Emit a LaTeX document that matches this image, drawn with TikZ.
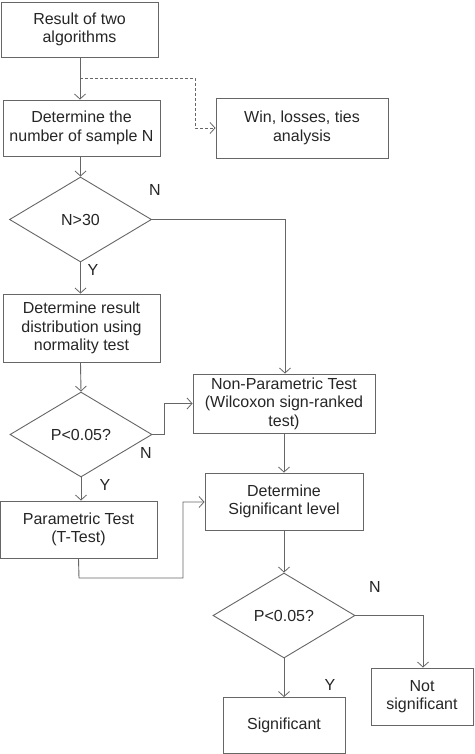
\documentclass[tikz,border=0pt]{standalone}
\usepackage{fontspec}
\setmainfont{Liberation Sans}
\usetikzlibrary{shapes.geometric,arrows.meta}
\begin{document}
\begin{tikzpicture}[x=1pt,y=-1pt,
  every node/.style={font=\fontsize{16}{18.5}\selectfont, text=black!85},
  box/.style={draw=black!60, line width=0.9pt, rectangle, inner sep=0pt, align=center},
  dec/.style={draw=black!60, line width=0.9pt, diamond, inner sep=0pt, minimum width=142pt, minimum height=85pt, align=center},
  conn/.style={draw=black!60, line width=0.9pt, -{Straight Barb[length=5pt,width=11pt,line width=0.8pt]}},
  lbl/.style={inner sep=0pt}
]
\useasboundingbox[fill=white] (0,0) rectangle (474,754);

\node[box, minimum width=157pt, minimum height=55pt] (b1) at (79.5,29.5) {Result of two\\algorithms};
\node[box, minimum width=157pt, minimum height=56pt] (b2) at (81.5,128) {Determine the\\number of sample N};
\node[box, minimum width=172pt, minimum height=60pt] (win) at (302,128) {Win, losses, ties\\analysis};
\node[dec] (d1) at (80.5,219.5) {N>30};
\node[box, minimum width=157pt, minimum height=68pt] (b3) at (81.5,328) {Determine result\\distribution using\\normality test};
\node[dec] (d2) at (81,434.5) {P<0.05?};
\node[box, minimum width=182pt, minimum height=59pt] (np) at (284,403.5) {Non-Parametric Test\\(Wilcoxon sign-ranked\\test)};
\node[box, minimum width=158pt, minimum height=57pt] (ds) at (284,501.5) {Determine\\Significant level};
\node[box, minimum width=157pt, minimum height=57pt] (pt) at (78.5,529.5) {Parametric Test\\(T-Test)};
\node[dec] (d3) at (284,615.5) {P<0.05?};
\node[box, minimum width=102pt, minimum height=57pt] (ns) at (422,696.5) {Not\\significant};
\node[box, minimum width=122pt, minimum height=56pt] (sig) at (284,725.5) {Significant};

\coordinate (split) at (80,78);
\coordinate (dk1) at (195,78);
\coordinate (dk2) at (195,128);
\coordinate (r1) at (285,219.5);
\coordinate (r2a) at (164,434.5);
\coordinate (r2b) at (164,403.5);
\coordinate (p1) at (79,578);
\coordinate (p2) at (183,578);
\coordinate (p3) at (183,502);
\coordinate (r3) at (423,615.5);

\draw[conn] (b1.south -| split) -- (b2.north -| split);
\draw[conn, dashed, dash pattern=on 3pt off 2pt] (split) -- (dk1) -- (dk2) -- (win.west);
\draw[conn] (b2.south -| d1.north) -- (d1.north);
\draw[conn] (d1.east) -- (r1) -- (r1 |- np.north);
\draw[conn] (d1.south) -- (d1.south |- b3.north);
\draw[conn] (b3.south -| d1.south) -- (d2.north);
\draw[conn] (d2.east) -- (r2a) -- (r2b) -- (np.west);
\draw[conn] (d2.south) -- (d2.south |- pt.north);
\draw[conn] (np.south) -- (ds.north);
\draw[conn] (pt.south) -- (p1) -- (p2) -- (p3) -- (p3 -| ds.west);
\draw[conn] (ds.south) -- (d3.north);
\draw[conn] (d3.east) -- (r3) -- (r3 |- ns.north);
\draw[conn] (d3.south) -- (sig.north);

\node[lbl] (n1) at (155,190) {N};
\node[lbl] (y1) at (93,270) {Y};
\node[lbl] (n2) at (146,453) {N};
\node[lbl] (y2) at (105,485) {Y};
\node[lbl] (n3) at (375,587) {N};
\node[lbl] (y3) at (330,685) {Y};
\end{tikzpicture}
\end{document}
